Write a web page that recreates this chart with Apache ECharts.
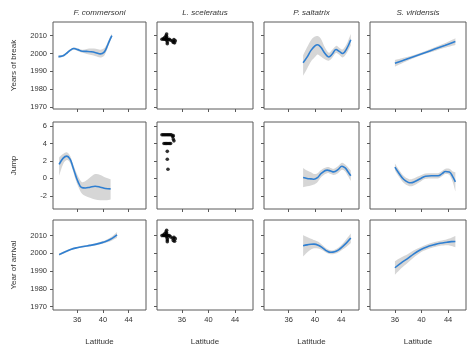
<!DOCTYPE html>
<html>
<head>
<meta charset="utf-8">
<script src="https://cdn.jsdelivr.net/npm/echarts@6/dist/echarts.min.js"></script>
<style>html,body{margin:0;padding:0;background:#fff}#c{width:474px;height:355px}</style>
</head>
<body>
<div id="c"></div>
<script>
// ---- labels and ticks ----
const species = ['F. commersoni', 'L. sceleratus', 'P. saltatrix', 'S. viridensis'];
const rowNames = ['Years of break', 'Jump', 'Year of arrival'];
const latTicks = [36, 40, 44];
const yearTicks = [1970, 1980, 1990, 2000, 2010];
const jumpTicks = [-2, 0, 2, 4, 6];

// ---- Years of break ----
const fcBreakLat = [33.1, 33.7, 34.3, 34.9, 35.5, 36.1, 36.8, 37.5, 38.2, 38.9, 39.6, 40.2, 40.6, 41.0, 41.4];
const fcBreakFit = [1998.3, 1998.6, 2000.0, 2001.8, 2002.8, 2002.2, 2001.3, 2001.2, 2001.0, 2000.5, 1999.8, 2000.8, 2003.5, 2007.0, 2010.0];
const fcBreakLo  = [1997.6, 1998.0, 1999.4, 2001.2, 2002.2, 2001.5, 2000.4, 1999.8, 1999.2, 1998.5, 1997.8, 1998.8, 2001.8, 2005.6, 2008.8];
const fcBreakHi  = [1999.0, 1999.2, 2000.6, 2002.4, 2003.4, 2002.9, 2002.2, 2002.6, 2002.8, 2002.7, 2002.2, 2003.0, 2005.2, 2008.4, 2011.2];

const lsBreakPts = [[33.7,2011],[33.6,2010],[33.4,2009],[33.2,2008.3],[33.0,2008],[33.3,2008],[33.5,2008],[33.7,2009.5],[33.7,2008.5],[33.7,2007.5],[33.8,2006.5],[33.8,2005.5],[33.9,2008],[34.1,2008],[34.3,2007.5],[34.6,2007],[34.8,2007.8],[35.0,2007.2],[34.7,2006.2],[34.9,2006]];

const psBreakLat = [38.2, 38.8, 39.4, 40.0, 40.4, 40.9, 41.5, 42.1, 42.6, 43.2, 43.7, 44.2, 44.8, 45.45];
const psBreakFit = [1994.9, 1998.0, 2001.8, 2004.3, 2004.9, 2003.5, 2000.2, 1998.1, 1999.6, 2002.3, 2001.2, 2000.0, 2002.5, 2007.7];
const psBreakLo  = [1987.5, 1991.5, 1995.5, 1998.0, 1999.5, 1998.3, 1996.8, 1996.0, 1997.5, 2000.3, 1999.3, 1997.8, 2000.0, 2004.5];
const psBreakHi  = [1999.0, 2003.5, 2007.5, 2009.5, 2009.8, 2008.3, 2003.5, 2000.5, 2002.0, 2004.3, 2003.2, 2002.3, 2005.2, 2011.0];

const svBreakLat = [36.0, 37.5, 39.0, 40.5, 42.0, 43.5, 45.1];
const svBreakFit = [1994.5, 1996.5, 1998.5, 2000.5, 2002.5, 2004.5, 2006.7];
const svBreakLo  = [1992.6, 1995.2, 1997.6, 1999.7, 2001.5, 2003.2, 2004.8];
const svBreakHi  = [1996.4, 1997.8, 1999.4, 2001.3, 2003.5, 2005.8, 2008.6];

// ---- Jump ----
const fcJumpLat = [33.2, 33.8, 34.4, 34.9, 35.3, 35.7, 36.1, 36.7, 37.3, 38.0, 38.8, 39.6, 40.4, 41.2];
const fcJumpFit = [1.6, 2.3, 2.55, 2.2, 1.4, 0.5, -0.3, -1.05, -1.1, -1.0, -0.9, -1.0, -1.15, -1.2];
const fcJumpLo  = [0.3, 1.6, 2.1, 1.8, 1.0, 0.0, -0.8, -1.7, -2.0, -2.2, -2.4, -2.5, -2.5, -2.4];
const fcJumpHi  = [2.4, 2.8, 3.0, 2.6, 1.8, 1.0, 0.3, -0.4, -0.3, 0.1, 0.5, 0.4, 0.1, -0.1];

const lsJumpPts = [[33.0,5],[33.2,5],[33.4,5],[33.6,5],[33.8,5],[34.0,5],[34.2,5],[34.4,5],[34.6,4.8],[34.7,4.5],[34.8,4.3],[34.7,4.9],[33.3,4],[33.5,4],[33.7,4],[33.9,4],[34.1,4],[34.3,4],[33.8,3.1],[33.8,2.2],[33.9,1.05]];

const psJumpLat = [38.2, 38.8, 39.4, 39.85, 40.4, 41.0, 41.85, 42.4, 42.85, 43.5, 44.1, 44.6, 45.0, 45.45];
const psJumpFit = [0.1, 0.0, -0.05, -0.1, 0.1, 0.6, 0.95, 0.85, 0.75, 1.0, 1.4, 1.2, 0.8, 0.3];
const psJumpLo  = [-1.0, -0.9, -0.8, -0.7, -0.4, 0.2, 0.6, 0.5, 0.4, 0.6, 1.0, 0.8, 0.3, -0.3];
const psJumpHi  = [1.2, 0.9, 0.7, 0.5, 0.6, 1.0, 1.3, 1.2, 1.1, 1.4, 1.8, 1.6, 1.3, 0.9];

const svJumpLat = [36.0, 36.6, 37.3, 38.0, 38.4, 39.0, 39.9, 40.6, 41.5, 42.5, 43.1, 43.6, 44.2, 44.7, 45.1];
const svJumpFit = [1.3, 0.6, -0.1, -0.45, -0.5, -0.35, 0.0, 0.25, 0.3, 0.3, 0.55, 0.8, 0.75, 0.2, -0.4];
const svJumpLo  = [0.9, 0.2, -0.5, -0.85, -0.9, -0.75, -0.35, -0.05, 0.0, 0.0, 0.25, 0.5, 0.4, -0.4, -1.5];
const svJumpHi  = [1.7, 1.0, 0.3, -0.05, -0.1, 0.05, 0.35, 0.55, 0.6, 0.6, 0.85, 1.1, 1.1, 0.8, 0.7];

// ---- Year of arrival ----
const fcArrLat = [33.2, 34.0, 35.0, 36.0, 37.0, 38.0, 39.0, 40.0, 40.7, 41.5, 42.2];
const fcArrFit = [1999.3, 2000.6, 2002.2, 2003.2, 2003.9, 2004.5, 2005.2, 2006.2, 2007.1, 2008.6, 2010.4];
const fcArrLo  = [1998.6, 2000.0, 2001.7, 2002.7, 2003.4, 2004.0, 2004.6, 2005.5, 2006.2, 2007.4, 2008.8];
const fcArrHi  = [2000.0, 2001.2, 2002.7, 2003.7, 2004.4, 2005.0, 2005.8, 2006.9, 2008.0, 2009.8, 2012.0];

const lsArrPts = [[33.7,2013],[33.6,2012],[33.4,2011],[33.2,2010.3],[33.0,2010],[33.3,2010],[33.5,2010],[33.7,2011.5],[33.7,2010.5],[33.7,2009.5],[33.8,2008.5],[33.8,2007.5],[33.8,2006.6],[33.9,2010],[34.1,2010],[34.3,2009.3],[34.6,2008.5],[34.8,2009],[35.0,2008.3],[34.7,2007.2],[34.9,2006.8]];

const psArrLat = [38.2, 38.8, 39.4, 39.85, 40.5, 41.2, 41.8, 42.4, 43.0, 43.6, 44.2, 44.8, 45.45];
const psArrFit = [2004.3, 2004.8, 2005.1, 2005.2, 2004.6, 2003.0, 2001.4, 2000.6, 2000.9, 2002.0, 2003.8, 2005.9, 2008.6];
const psArrLo  = [1998.3, 2000.5, 2002.2, 2002.9, 2002.7, 2001.6, 2000.2, 1999.5, 1999.8, 2000.7, 2002.2, 2003.7, 2005.8];
const psArrHi  = [2010.4, 2009.2, 2008.2, 2007.5, 2006.5, 2004.4, 2002.6, 2001.7, 2002.0, 2003.3, 2005.4, 2008.1, 2011.2];

const svArrLat = [36.0, 37.0, 37.85, 38.8, 39.85, 40.8, 41.85, 42.8, 43.85, 44.5, 45.1];
const svArrFit = [1991.9, 1994.8, 1996.9, 1999.6, 2002.0, 2003.6, 2004.8, 2005.7, 2006.3, 2006.6, 2006.7];
const svArrLo  = [1988.0, 1991.8, 1994.5, 1997.6, 2000.5, 2002.2, 2003.4, 2004.3, 2004.6, 2004.2, 2003.5];
const svArrHi  = [1995.6, 1997.8, 1999.3, 2001.6, 2003.5, 2005.0, 2006.2, 2007.1, 2008.0, 2008.8, 2009.8];

// ---- panel table ----
const panels = [
  {lat: fcBreakLat, fit: fcBreakFit, lo: fcBreakLo, hi: fcBreakHi},
  {pts: lsBreakPts},
  {lat: psBreakLat, fit: psBreakFit, lo: psBreakLo, hi: psBreakHi},
  {lat: svBreakLat, fit: svBreakFit, lo: svBreakLo, hi: svBreakHi},
  {lat: fcJumpLat, fit: fcJumpFit, lo: fcJumpLo, hi: fcJumpHi},
  {pts: lsJumpPts},
  {lat: psJumpLat, fit: psJumpFit, lo: psJumpLo, hi: psJumpHi},
  {lat: svJumpLat, fit: svJumpFit, lo: svJumpLo, hi: svJumpHi},
  {lat: fcArrLat, fit: fcArrFit, lo: fcArrLo, hi: fcArrHi},
  {pts: lsArrPts},
  {lat: psArrLat, fit: psArrFit, lo: psArrLo, hi: psArrHi},
  {lat: svArrLat, fit: svArrFit, lo: svArrLo, hi: svArrHi}
];

// ---- layout ----
const FONT = '"Liberation Sans", Arial, sans-serif';
const TXT = '#333';
const colLeft = [53, 157, 264, 370];
const colWidth = [93, 96, 95, 96];
const rowTop = [22, 122, 220];
const rowHeight = [87, 87, 90];
const yRanges = [[1968.9, 2017.7], [-3.5, 6.46], [1968.1, 2018.8]];
const yTickSets = [yearTicks, jumpTicks, yearTicks];

// Catmull-Rom smoothed path segment through pixel points
function smoothSeg(pts) {
  let d = '';
  for (let i = 0; i < pts.length - 1; i++) {
    const p0 = pts[i - 1] || pts[i], p1 = pts[i], p2 = pts[i + 1], p3 = pts[i + 2] || pts[i + 1];
    const c1 = [p1[0] + (p2[0] - p0[0]) / 6, p1[1] + (p2[1] - p0[1]) / 6];
    const c2 = [p2[0] - (p3[0] - p1[0]) / 6, p2[1] - (p3[1] - p1[1]) / 6];
    d += ' C' + c1[0] + ' ' + c1[1] + ' ' + c2[0] + ' ' + c2[1] + ' ' + p2[0] + ' ' + p2[1];
  }
  return d;
}

function bandRenderer(p) {
  return function (params, api) {
    if (params.dataIndex !== 0) return null;
    const top = p.lat.map((x, k) => api.coord([x, p.hi[k]]));
    const bot = p.lat.map((x, k) => api.coord([x, p.lo[k]])).reverse();
    const d = 'M' + top[0][0] + ' ' + top[0][1] + smoothSeg(top) +
      ' L' + bot[0][0] + ' ' + bot[0][1] + smoothSeg(bot) + ' Z';
    return {type: 'path', shape: {pathData: d}, style: {fill: '#d6d6d6'}};
  };
}

const grids = [], xAxes = [], yAxes = [], series = [];
for (let r = 0; r < 3; r++) {
  for (let c = 0; c < 4; c++) {
    const i = r * 4 + c;
    grids.push({left: colLeft[c], top: rowTop[r], width: colWidth[c], height: rowHeight[r],
      show: true, borderColor: '#5a5a5a', borderWidth: 1, containLabel: false});
    xAxes.push({type: 'value', gridIndex: i, min: 32.25, max: 46.7, position: 'bottom',
      axisLine: {show: false, onZero: false}, splitLine: {show: false},
      axisTick: {show: true, length: 3, lineStyle: {color: '#5a5a5a'}, customValues: latTicks},
      axisLabel: {show: r === 2, customValues: latTicks, formatter: v => String(v),
        fontSize: 7.5, color: TXT, fontFamily: FONT, margin: 6},
      name: r === 2 ? 'Latitude' : '', nameLocation: 'middle', nameGap: 28,
      nameTextStyle: {fontSize: 8, color: TXT, fontFamily: FONT}});
    yAxes.push({type: 'value', gridIndex: i, min: yRanges[r][0], max: yRanges[r][1], position: 'left',
      axisLine: {show: false, onZero: false}, splitLine: {show: false},
      axisTick: {show: true, length: 3, lineStyle: {color: '#5a5a5a'}, customValues: yTickSets[r]},
      axisLabel: {show: c === 0, customValues: yTickSets[r], formatter: v => String(v),
        fontSize: 7.5, color: TXT, fontFamily: FONT, margin: 6},
      name: c === 0 ? rowNames[r] : '', nameLocation: 'middle', nameGap: 35, nameRotate: 90,
      nameTextStyle: {fontSize: 8, color: TXT, fontFamily: FONT}});
    const p = panels[i];
    if (p.pts) {
      series.push({type: 'scatter', xAxisIndex: i, yAxisIndex: i, data: p.pts,
        symbolSize: 3.6, itemStyle: {color: '#000'}, silent: true});
    } else {
      series.push({type: 'custom', xAxisIndex: i, yAxisIndex: i,
        data: p.lat.map((x, k) => [x, p.lo[k], p.hi[k]]),
        encode: {x: 0, y: [1, 2]}, renderItem: bandRenderer(p), silent: true, z: 1});
      series.push({type: 'line', xAxisIndex: i, yAxisIndex: i,
        data: p.lat.map((x, k) => [x, p.fit[k]]), smooth: 0.4, symbol: 'none',
        lineStyle: {color: '#2f7fd1', width: 1.6}, silent: true, z: 3});
    }
  }
}

const graphics = species.map((s, c) => ({
  type: 'text', x: colLeft[c] + colWidth[c] / 2, y: 13,
  style: {text: s, align: 'center', verticalAlign: 'middle', fontSize: 8,
    fontStyle: 'italic', fontFamily: FONT, fill: TXT}
}));

const chart = echarts.init(document.getElementById('c'), null, {renderer: 'canvas'});
chart.setOption({
  backgroundColor: '#fff',
  animation: false,
  grid: grids,
  xAxis: xAxes,
  yAxis: yAxes,
  series: series,
  graphic: graphics
});
</script>
</body>
</html>
